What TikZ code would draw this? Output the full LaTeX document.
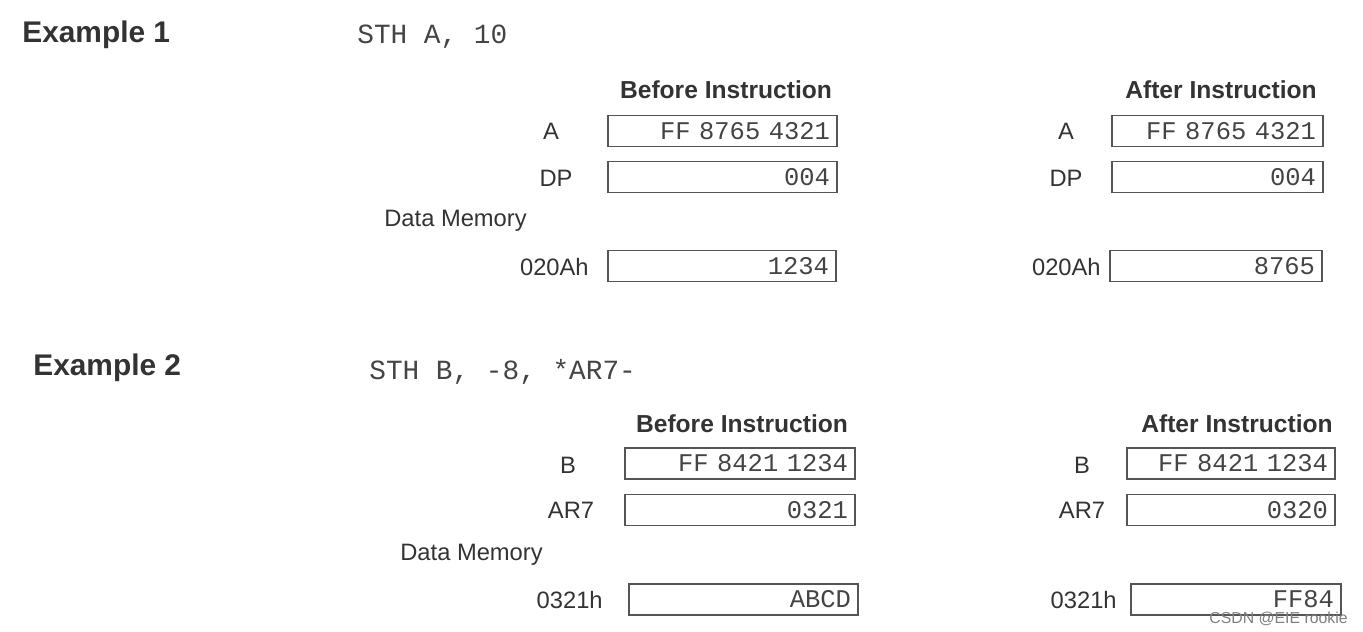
\documentclass[tikz,border=0pt]{standalone}
\usepackage{fontspec}
\setmainfont{Liberation Sans}
\newfontfamily\regfont{Liberation Mono}
\definecolor{inkgray}{HTML}{333333}
\definecolor{boxgray}{HTML}{555555}
\definecolor{valgray}{HTML}{444444}
\begin{document}
\begin{tikzpicture}[x=0.02cm, y=-0.02cm,
  title/.style={font=\fontsize{17}{19}\selectfont\bfseries, text=inkgray, anchor=west, inner sep=0pt},
  instr/.style={font=\regfont\fontsize{15.8}{18}\selectfont, text=valgray, anchor=west, inner sep=0pt},
  phase/.style={font=\fontsize{14}{16}\selectfont\bfseries, text=inkgray, inner sep=0pt},
  lbl/.style={font=\fontsize{13.5}{15}\selectfont, text=inkgray, inner sep=0pt},
  regbox/.style={draw=boxgray, line width=1.1pt, text width=#1, align=right, inner xsep=4pt,
    minimum height=0.62cm, font=\regfont\fontsize{14.5}{16}\selectfont, text=valgray}]
\useasboundingbox (0,0) rectangle (1363,632);
% example 1
\node[title] (ex1) at (22,35) {Example 1};
\node[instr] (code1) at (357,37) {STH A, 10};
\node[phase] (before1) at (726,90) {Before Instruction};
\node[phase] (after1) at (1221,90) {After Instruction};
\node[lbl] (la1) at (551,131) {A};
\node[regbox=4.30cm] (ba1) at (722.5,131) {FF 8765 4321};
\node[lbl] (ldp1) at (556,178) {DP};
\node[regbox=4.30cm] (bdp1) at (722.5,177) {004};
\node[lbl, anchor=west] (dm1) at (384,221) {Data Memory};
\node[lbl, anchor=east] (lm1) at (589,267) {020Ah};
\node[regbox=4.28cm] (bm1) at (722,266) {1234};
\node[lbl] (la1b) at (1066,131) {A};
\node[regbox=3.94cm] (aa1) at (1217.5,131) {FF 8765 4321};
\node[lbl] (ldp1b) at (1066,178) {DP};
\node[regbox=3.94cm] (adp1) at (1217.5,177) {004};
\node[lbl, anchor=east] (lm1b) at (1101,267) {020Ah};
\node[regbox=3.96cm] (am1) at (1216,266) {8765};
% example 2
\node[title] (ex2) at (33,368) {Example 2};
\node[instr] (code2) at (369,372) {STH B, -8, *AR7-};
\node[phase] (before2) at (742,424) {Before Instruction};
\node[phase] (after2) at (1237,424) {After Instruction};
\node[lbl] (lb2) at (568,465) {B};
\node[regbox=4.32cm] (bb2) at (740,463.5) {FF 8421 1234};
\node[lbl] (lar2) at (571,510) {AR7};
\node[regbox=4.32cm] (bar2) at (740,510) {0321};
\node[lbl, anchor=west] (dm2) at (400,555) {Data Memory};
\node[lbl, anchor=east] (lm2) at (603,600) {0321h};
\node[regbox=4.30cm] (bm2) at (743.5,599.5) {ABCD};
\node[lbl] (lb2b) at (1082,465) {B};
\node[regbox=3.88cm] (ab2) at (1231,463.5) {FF 8421 1234};
\node[lbl] (lar2b) at (1082,510) {AR7};
\node[regbox=3.88cm] (aar2) at (1231,510) {0320};
\node[lbl, anchor=east] (lm2b) at (1117,600) {0321h};
\node[regbox=3.92cm] (am2) at (1236,599.5) {FF84};
\node[font=\fontsize{9}{10}\selectfont, text=gray, anchor=east, inner sep=0pt] (mark) at (1348,619) {CSDN @EIE rookie};
\end{tikzpicture}
\end{document}
